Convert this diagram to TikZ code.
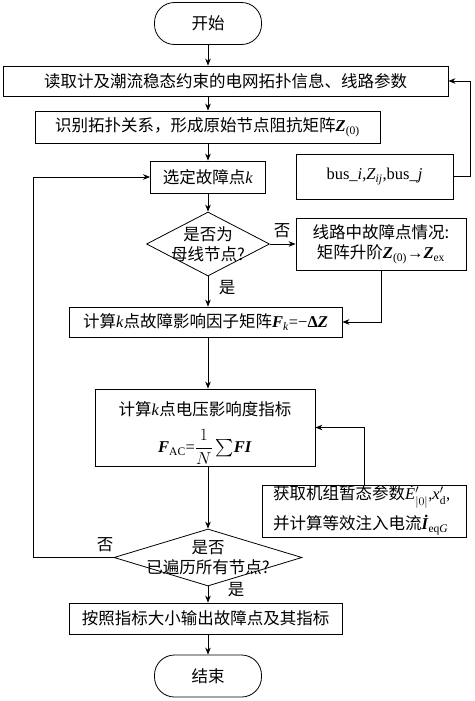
\documentclass[tikz,border=0pt]{standalone}
\usepackage{amsmath}
\usepackage{exscale}
\usepackage{fontspec}
\setmainfont{Liberation Serif}
\newfontfamily\cjk{Noto Sans CJK SC}
\usetikzlibrary{shapes.geometric,arrows.meta}
\newcommand\zh[1]{{\cjk #1}}
\newcommand\bi[1]{\textbf{\textit{#1}}}
\begin{document}
\begin{tikzpicture}[x=1pt,y=-1pt,
  every node/.style={font=\fontsize{16.5}{20}\selectfont, inner sep=0pt},
  box/.style={draw, line width=0.8pt, rectangle},
  term/.style={draw, line width=0.8pt, rectangle, rounded corners=20pt, minimum width=107pt, minimum height=42pt},
  dia/.style={draw, line width=0.8pt, diamond, inner sep=0pt},
  arr/.style={line width=0.8pt, -{Stealth[length=7pt,width=5.5pt]}},
  lbl/.style={font=\fontsize{16.5}{20}\selectfont\cjk}]
\useasboundingbox (0,0) rectangle (474,701);
\node[term] (start) at (208,23.5) {\zh{开始}};
\node[box, minimum width=445pt, minimum height=30pt] (b1) at (225.5,81) {\zh{读取计及潮流稳态约束的电网拓扑信息、线路参数}};
\node[box, minimum width=345pt, minimum height=32pt] (b2) at (207.5,127) {\zh{识别拓扑关系，形成原始节点阻抗矩阵}\bi{Z}\textsubscript{(0)}};
\node[box, minimum width=115pt, minimum height=32pt] (b3) at (208,177) {\zh{选定故障点}\textit{k}};
\node[box, minimum width=157pt, minimum height=45pt] (bus) at (374.5,176.5) {bus\_\textit{i},\textit{Z}\textsubscript{\textit{ij}},bus\_\textit{j}};
\node[dia, minimum width=123pt, minimum height=64pt] (d1) at (208,244) {};
\node[align=center] (d1t) at (208,244) {\zh{是否为}\\\zh{母线节点?}};
\node[box, minimum width=170pt, minimum height=52pt, align=center] (lb) at (381,244) {\zh{线路中故障点情况:}\\\zh{矩阵升阶}\bi{Z}\textsubscript{(0)}→\bi{Z}\textsubscript{ex}};
\node[box, minimum width=273pt, minimum height=30pt] (fk) at (205.5,322) {\zh{计算}\textit{k}\zh{点故障影响因子矩阵}\bi{F}\textsubscript{\textit{k}}=−\textbf{Δ}\bi{Z}};
\node[box, minimum width=220pt, minimum height=77pt] (fac) at (205,427.5) {};
\node (fac1) at (205,409) {\zh{计算}\textit{k}\zh{点电压影响度指标}};
\node (fac2) at (205,447) {\bi{F}\textsubscript{AC}=$\displaystyle\frac{1}{N}\textstyle\sum$\bi{FI}};
\node[box, minimum width=204pt, minimum height=52pt] (gen) at (364,511) {};
\node[anchor=west] (gen1) at (273,497) {\zh{获取机组暂态参数}\textit{Ė}$'_{|0|}$,\textit{x}$'_{\mathrm{d}}$,};
\node[anchor=west] (gen2) at (273,525) {\zh{并计算等效注入电流}\bi{\.I}\textsubscript{eq\textit{G}}};
\node[dia, minimum width=188pt, minimum height=57pt] (d2) at (208,557.5) {};
\node[align=center] (d2t) at (208,557.5) {\zh{是否}\\\zh{已遍历所有节点?}};
\node[box, minimum width=273pt, minimum height=31pt] (out) at (205.5,618.5) {\zh{按照指标大小输出故障点及其指标}};
\node[term] (end) at (208,676) {\zh{结束}};
\node[lbl] (n1) at (282,231) {否};
\node[lbl] (y1) at (227,288) {是};
\node[lbl] (n2) at (105,545) {否};
\node[lbl] (y2) at (236,590) {是};
\draw[arr] (start.south) -- (start.south |- b1.north);
\draw[arr] (start.south |- b1.south) -- (start.south |- b2.north);
\draw[arr] (b2.south -| b3.south) -- (b3.north);
\draw[arr] (b3.south) -- (d1.north);
\draw[arr] (d1.south) -- (d1.south |- fk.north);
\draw[arr] (d1.east) -- (lb.west);
\draw[arr] (lb.south) |- (fk.east);
\draw[arr] (d1.south |- fk.south) -- (d1.south |- fac.north);
\draw[arr] (gen.north) |- (fac.east);
\draw[arr] (d2.north |- fac.south) -- (d2.north);
\draw[arr] (d2.south) -- (d2.south |- out.north);
\draw[arr] (d2.south |- out.south) -- (end.north);
\draw[arr] (d2.west) -- ++(-80,0) |- (b3.west);
\draw[arr] (bus.east) -- ++(17,0) |- (b1.east);
\end{tikzpicture}
\end{document}
